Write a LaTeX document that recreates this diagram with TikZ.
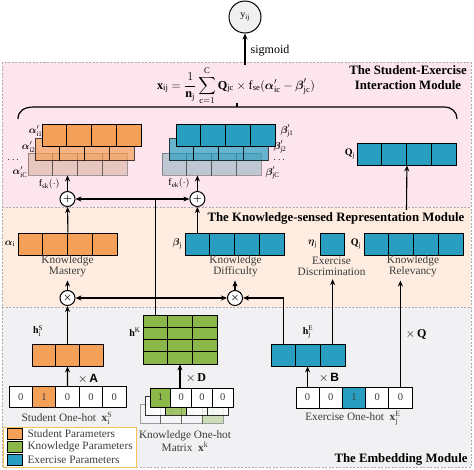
\documentclass[tikz,border=0pt]{standalone}
\usepackage{amsmath,amssymb}
\usepackage{fontspec}
\setmainfont{Liberation Serif}
\setsansfont{Liberation Sans}
\usepackage{xcolor}
\usepackage{tikz}
\usetikzlibrary{arrows.meta,positioning}

\definecolor{stuorange}{RGB}{245,160,88}
\definecolor{exeblue}{RGB}{42,158,192}
\definecolor{kngreen}{RGB}{140,184,74}
\definecolor{panelpink}{RGB}{252,229,237}
\definecolor{panelpeach}{RGB}{253,236,223}
\definecolor{panelgray}{RGB}{241,241,243}
\definecolor{legendgold}{RGB}{242,196,90}
\definecolor{labelgray}{RGB}{60,60,60}

\begin{document}
\begin{tikzpicture}[
  x=1pt, y=-1pt,
  cell/.style={rectangle, draw, line width=0.8pt, minimum width=24.75pt,
    minimum height=22pt, inner sep=0pt},
  mcell/.style={rectangle, draw, line width=0.8pt, minimum width=24.67pt,
    minimum height=12.25pt, inner sep=0pt, fill=kngreen},
  hot/.style={cell, minimum width=23.4pt, minimum height=21pt,
    font=\fontsize{10.5}{11}\selectfont, text=labelgray},
  op/.style={circle, draw, line width=1pt, fill=white, minimum size=15pt,
    inner sep=0pt},
  desc/.style={align=center, font=\fontsize{11.3}{11}\selectfont, text=labelgray},
  title/.style={align=center, font=\fontsize{12.8}{15}\selectfont\bfseries},
  panel/.style={draw=gray!65, dash pattern=on 2pt off 1.5pt, line width=0.8pt},
  >={Stealth[length=6pt,width=5pt]}, line width=1.1pt
]
  \useasboundingbox (0,0) rectangle (474,469);

  \fill[panelpink] (2,62) rectangle (471,207);
  \fill[panelpeach] (2,207) rectangle (471,307);
  \fill[panelgray] (2,307) rectangle (471,467);
  \draw[panel] (2,62) rectangle (471,467);
  \draw[panel] (2,207) -- (471,207);
  \draw[panel] (2,307) -- (471,307);

  % interaction module
  \node[circle, draw, line width=1pt, fill=gray!12, minimum size=32pt,
    inner sep=0pt] (y) at (245,17) {$\mathrm{y}_{\mathrm{ij}}$};
  \node[font=\fontsize{12.2}{12}\selectfont, inner sep=1pt] (xij) at (236,86)
    {$\displaystyle \mathbf{x}_{\mathrm{ij}}=\frac{1}{\mathbf{n}_{\mathrm{j}}}
     \sum_{\mathrm{c}=1}^{\mathrm{C}}\mathbf{Q}_{\mathrm{jc}}\times
     \mathrm{f}_{\mathrm{se}}(\boldsymbol{\alpha}'_{\mathrm{ic}}
     -\boldsymbol{\beta}'_{\mathrm{jc}})$};
  \node[font=\fontsize{12}{12}\selectfont] (sig) at (270,51) {sigmoid};
  \node[title] (tsi) at (408,78) {The Student-Exercise\\Interaction Module};
  \draw[->] (y |- xij.north) -- (y.south);

  \draw[line width=1.2pt] (18,119) .. controls (18,111) and (24,107) .. (34,107)
    -- (444,107) .. controls (452,107) and (457,112) .. (457,119);
  \draw[line width=1.2pt] (237,107) -- (237,103);

  \foreach \k/\op/\fc in {2/0.35/stuorange!55!gray, 1/0.7/stuorange, 0/1/stuorange}
    \foreach \i in {0,...,3}
      \node[cell, fill=\fc, fill opacity=\op, draw opacity=\op] (as\k\i)
        at ({54.375-7*\k+24.75*\i},{135+14.5*\k}) {};
  \foreach \k/\op/\fc in {2/0.35/exeblue!55!gray, 1/0.7/exeblue, 0/1/exeblue}
    \foreach \i in {0,...,3}
      \node[cell, fill=\fc, fill opacity=\op, draw opacity=\op] (bs\k\i)
        at ({188.375-7*\k+24.75*\i},{135+14.5*\k}) {};
  \foreach \i in {0,...,3}
    \node[cell, fill=exeblue] (qt\i) at ({369.375+24.75*\i},154) {};

  \node[anchor=east, inner sep=1pt] (la1) at (44,131) {$\boldsymbol{\alpha}'_{\mathrm{i1}}$};
  \node[anchor=east, inner sep=1pt] (la2) at (37,147) {$\boldsymbol{\alpha}'_{\mathrm{i2}}$};
  \node[inner sep=1pt] (la3) at (14,160) {$\cdots$};
  \node[anchor=east, inner sep=1pt] (la4) at (29,172) {$\boldsymbol{\alpha}'_{\mathrm{iC}}$};
  \node[anchor=west, inner sep=1pt] (lb1) at (279,131) {$\boldsymbol{\beta}'_{\mathrm{j1}}$};
  \node[anchor=west, inner sep=1pt] (lb2) at (272,147) {$\boldsymbol{\beta}'_{\mathrm{j2}}$};
  \node[inner sep=1pt] (lb3) at (280,160) {$\cdots$};
  \node[anchor=west, inner sep=1pt] (lb4) at (264,173) {$\boldsymbol{\beta}'_{\mathrm{jC}}$};
  \node[anchor=east, inner sep=1pt] (lqt) at (qt0.west) {$\mathbf{Q}_{\mathrm{j}}$};

  \node[op] (plus1) at (67.5,199) {$\boldsymbol{+}$};
  \node[op] (plus2) at (197.375,199) {$\boldsymbol{+}$};
  \node[anchor=east, inner sep=1pt] (fsk) at (61,184) {$\mathrm{f}_{\mathrm{sk}}(\cdot)$};
  \node[anchor=east, inner sep=1pt] (fek) at (191,183) {$\mathrm{f}_{\mathrm{ek}}(\cdot)$};

  % representation module
  \node[title] (tks) at (336,218) {The Knowledge-sensed Representation Module};
  \foreach \i in {0,...,3} {
    \node[cell, fill=stuorange] (al\i) at ({30.375+24.75*\i},244) {};
    \node[cell, fill=exeblue] (bt\i) at ({197.375+24.75*\i},244) {};
    \node[cell, fill=exeblue] (qm\i) at ({376.375+24.75*\i},244) {};
  }
  \node[cell, fill=exeblue, minimum width=24pt] (eta) at (332,244) {};
  \node[anchor=east, inner sep=2pt] (lal) at (al0.west) {$\boldsymbol{\alpha}_{\mathrm{i}}$};
  \node[anchor=east, inner sep=2pt] (lbt) at (bt0.west) {$\boldsymbol{\beta}_{\mathrm{j}}$};
  \node[anchor=east, inner sep=2pt] (leta) at (eta.west) {$\boldsymbol{\eta}_{\mathrm{j}}$};
  \node[anchor=east, inner sep=2pt] (lqm) at (qm0.west) {$\mathbf{Q}_{\mathrm{j}}$};
  \node[desc] (lmast) at (67.5,266) {Knowledge\\Mastery};
  \node[desc] (ldiff) at (235.5,266) {Knowledge\\Difficulty};
  \node[desc] (ldisc) at (331.5,266) {Exercise\\Discrimination};
  \node[desc] (lrel) at (413,266) {Knowledge\\Relevancy};
  \coordinate (qin) at (406.5,210);

  \node[op] (mul1) at (67.5,298) {$\boldsymbol{\times}$};
  \node[op] (mul2) at (235,298) {$\boldsymbol{\times}$};

  % embedding module
  \node[title] (tem) at (401,459) {The Embedding Module};
  \foreach \i in {0,1,2} {
    \node[cell, fill=stuorange, minimum width=23.67pt] (hs\i) at ({43.83+23.67*\i},355) {};
    \node[cell, fill=exeblue, minimum width=24.67pt] (he\i) at ({283.3+24.67*\i},355) {};
  }
  \foreach \r in {0,...,3}
    \foreach \c in {0,1,2}
      \node[mcell] (hk\r\c) at ({155.3+24.67*\c},{321.1+12.25*\r}) {};
  \node[inner sep=0pt] (lhs) at (38,331) {$\mathbf{h}_{\mathrm{i}}^{\mathrm{S}}$};
  \node[inner sep=0pt] (lhe) at (308,332) {$\mathbf{h}_{\mathrm{j}}^{\mathrm{E}}$};
  \node[anchor=east, inner sep=2pt] (lhk) at (143,332) {$\mathbf{h}^{\mathrm{K}}$};

  \foreach \i in {0,...,4} {
    \pgfmathtruncatemacro\hit{\i==1}
    \ifnum\hit=1 \def\fc{stuorange}\else\def\fc{white}\fi
    \node[hot, fill=\fc] (so\i) at ({20.7+23.4*\i},397) {\hit};
  }
  \foreach \i in {0,...,4} {
    \pgfmathtruncatemacro\hit{\i==2}
    \ifnum\hit=1 \def\fc{exeblue}\else\def\fc{white}\fi
    \node[hot, fill=\fc, minimum width=23.2pt] (eo\i) at ({307.6+23.2*\i},397.5) {\hit};
  }
  \foreach \k/\g/\op in {2/3/0.35, 1/1/0.8, 0/0/1}
    \foreach \i in {0,...,3} {
      \pgfmathtruncatemacro\hit{\i==\g}
      \ifnum\hit=1 \def\fc{kngreen}\else\def\fc{white}\fi
      \node[hot, fill=\fc, minimum width=20.75pt, minimum height=19pt,
        opacity=\op] (ko\k\i) at ({160.4-5*\k+20.75*\i},{397.5+8*\k}) {\hit};
    }

  \node[desc] (lso) at (67,418) {Student One-hot \ $\mathbf{x}_{\mathrm{i}}^{\mathrm{S}}$};
  \node[desc] (leo) at (353,418) {Exercise One-hot \ $\mathbf{x}_{\mathrm{j}}^{\mathrm{E}}$};
  \node[desc] (lko) at (185,441) {Knowledge One-hot\\Matrix \ $\mathbf{x}^{\mathrm{k}}$};
  \node[font=\fontsize{12}{12}\selectfont] (xa) at (88,379) {$\times$\,\textsf{\textbf{A}}};
  \node[font=\fontsize{12}{12}\selectfont] (xd) at (196,378) {$\times$\,\textbf{D}};
  \node[font=\fontsize{12}{12}\selectfont] (xb) at (329,378) {$\times$\,\textsf{\textbf{B}}};
  \node[anchor=west, font=\fontsize{12}{12}\selectfont] (xq) at (402,334) {$\times$\,\textbf{Q}};

  \node[draw=legendgold, line width=1pt, fill=white, minimum width=133pt,
    minimum height=40pt, inner sep=0pt] (leg) at (69.5,447) {};
  \foreach \n/\fc/\t/\yy in {1/stuorange/Student/434, 2/kngreen/Knowledge/447,
      3/exeblue/Exercise/459.5} {
    \node[cell, fill=\fc, minimum width=15pt, minimum height=11pt] (key\n) at (15,\yy) {};
    \node[desc, anchor=west, inner sep=1pt] (kt\n) at (26,\yy) {\t{} Parameters};
  }

  % connectors
  \draw[->] (so2.north) -- (hs1.south);
  \draw[->] (eo0.north) -- (eo0.north |- he1.south);
  \draw[->] (ko01.north -| hk31.south) -- (hk31.south);
  \draw[->] (hs1.north) -- (mul1);
  \draw[->] (he0.north) |- (mul2);
  \draw (hk00.north) -- (hk00.north |- plus1) coordinate (kv);
  \coordinate (kv2) at (hk00.north |- mul1);
  \draw[->] (kv2) -- (mul1);
  \draw[->] (kv2) -- (mul2);
  \draw[->] (kv) -- (plus1);
  \draw[->] (kv) -- (plus2);
  \draw[->] (mul1) -- (mul1 |- lmast.south);
  \draw[->] (mul2) -- (mul2 |- ldiff.south);
  \draw[->] (he2.north) -- (he2.north |- ldisc.south);
  \draw[->] (eo4.north) -- (eo4.north |- lrel.south);
  \draw[->] (al1.north east) -- (plus1);
  \draw[->] (bt0.north) -- (plus2);
  \draw[->] (plus1) -- (plus1 |- as20.south);
  \draw[->] (plus2) -- (plus2 |- bs20.south);
  \draw[->] (qin) -- (qt1.south east);
\end{tikzpicture}
\end{document}
